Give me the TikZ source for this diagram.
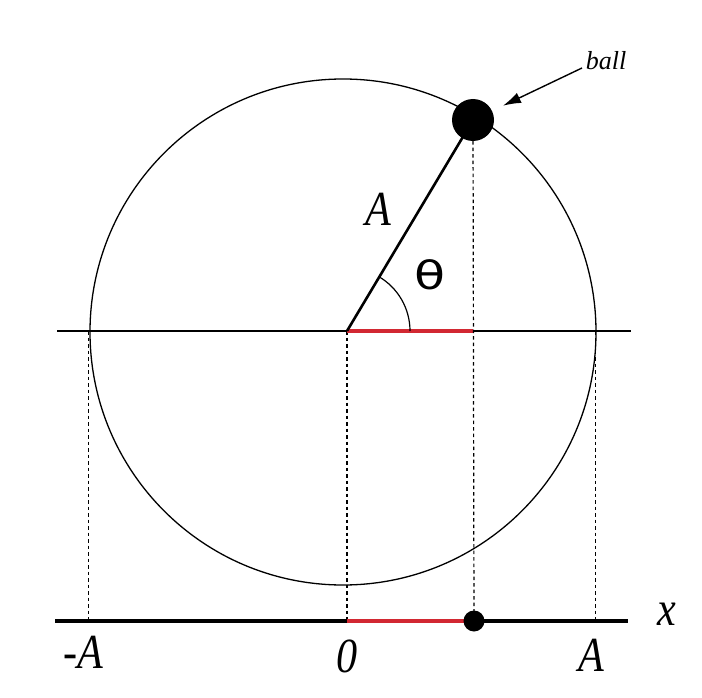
\documentclass[tikz,border=0pt]{standalone}
\usepackage{fontspec}
\setmainfont{Liberation Serif}
\newfontfamily\dvfont{DejaVu Sans}
\usetikzlibrary{arrows.meta}
\definecolor{redline}{RGB}{210,40,50}
\newcommand{\narrowit}[1]{\scalebox{0.86}[1]{\fontsize{49}{49}\selectfont\itshape #1}}
\begin{document}
\begin{tikzpicture}[x=1pt,y=-1pt,
  lbl/.style={inner sep=0pt},
  dsh/.style={line width=1.2pt, dash pattern=on 3.5pt off 3pt},
  thinline/.style={line width=1.3pt},
  redseg/.style={line width=3.2pt, draw=redline},
]
\useasboundingbox (0,0) rectangle (702,698);
% named points
\coordinate (C) at (343,332);
\coordinate (O) at (347,331);
\coordinate (L) at (88.5,331);
\coordinate (R) at (595.5,331);
\coordinate (P) at (473,331);
\coordinate (h1) at (57,331);
\coordinate (h2) at (631,331);
\coordinate (ax1) at (55,621);
\coordinate (ax2) at (628,621);
\coordinate (Lb) at (88.5,621);
\coordinate (Ob) at (347,621);
\coordinate (Pb) at (474,621);
\coordinate (Rb) at (595.5,621);
\coordinate (arrS) at (582,68);
% circle
\draw[thinline] (C) circle[radius=253];
% horizontal diameter line
\draw[line width=1.5pt] (h1) -- (h2);
% dashed projections
\draw[dsh] (L) -- (Lb);
\draw[dsh] (O) -- (Ob);
\draw[dsh] (R) -- (Rb);
% x axis
\draw[line width=3.2pt] (ax1) -- (ax2);
\draw[redseg] (Ob) -- (Pb);
\node[circle, fill=black, minimum size=21pt, inner sep=0pt] (dot) at (Pb) {};
% red segment on diameter
\draw[redseg] (O) -- (P);
% ball
\node[circle, fill=black, minimum size=42pt, inner sep=0pt] (ball) at (473,120) {};
\draw[dsh] (ball) -- (Pb);
\draw[line width=2.6pt] (O) -- (ball.center);
% angle arc
\draw[line width=1.2pt] (O) ++(63,0) arc[start angle=0, end angle=-60, radius=63];
% arrow to ball
\draw[line width=1.4pt, -{Latex[length=18pt,width=11pt]}, shorten >=12pt] (arrS) -- (ball);
% labels
\node[font=\fontsize{26}{26}\selectfont\itshape, inner sep=0pt] (balltxt) at (606,61) {ball};
\node[lbl] (Alab) at (378,209) {\narrowit{A}};
\node[lbl] (theta) at (430,275) {\scalebox{1.3}[1]{\dvfont\fontsize{39}{39}\selectfont θ}};
\node[lbl] (mAlab) at (83,652) {\narrowit{-A}};
\node[lbl] (zlab) at (347,656) {\narrowit{0}};
\node[lbl] (Ablab) at (591,655) {\narrowit{A}};
\node[lbl] (xlab) at (667,614) {\narrowit{x}};
\end{tikzpicture}
\end{document}
